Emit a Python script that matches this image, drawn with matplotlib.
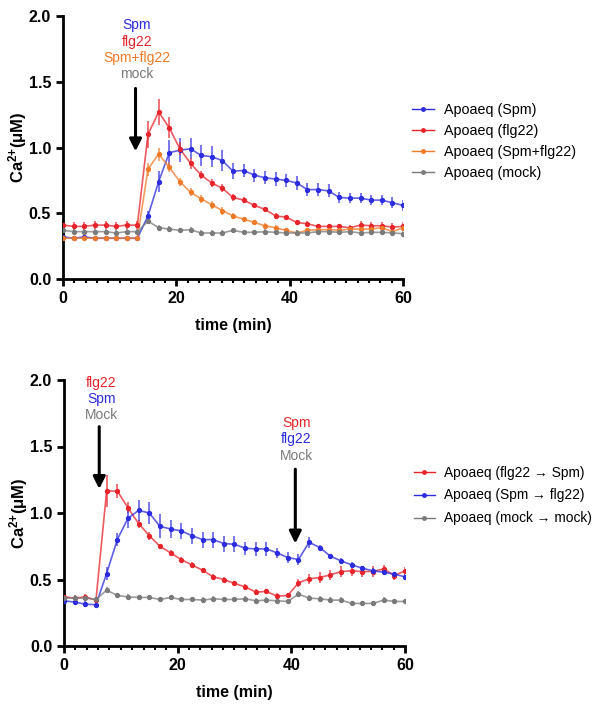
import matplotlib.pyplot as plt
import numpy as np

plt.rcParams['font.family'] = ['Liberation Sans', 'DejaVu Sans']
plt.rcParams['mathtext.fontset'] = 'custom'
plt.rcParams['mathtext.bf'] = 'Liberation Sans:bold'
plt.rcParams['mathtext.rm'] = 'Liberation Sans'

# time points (min), 33 readings
time = [i * 1.875 for i in range(33)]

# top panel
spm = [0.32, 0.31, 0.32, 0.31, 0.31, 0.31, 0.31, 0.31, 0.48, 0.74, 0.96, 0.98, 0.99,
       0.94, 0.93, 0.90, 0.82, 0.825, 0.79, 0.77, 0.76, 0.75, 0.73, 0.68, 0.68, 0.67,
       0.62, 0.615, 0.615, 0.60, 0.60, 0.58, 0.56]
spm_err = [0.02, 0.02, 0.02, 0.02, 0.02, 0.02, 0.02, 0.02, 0.04, 0.08, 0.10, 0.09, 0.08,
           0.08, 0.08, 0.08, 0.06, 0.05, 0.05, 0.05, 0.05, 0.05, 0.05, 0.05, 0.05, 0.05,
           0.04, 0.04, 0.04, 0.04, 0.04, 0.04, 0.04]
flg22 = [0.41, 0.40, 0.40, 0.41, 0.41, 0.40, 0.41, 0.41, 1.10, 1.27, 1.15, 0.99, 0.88,
         0.79, 0.73, 0.69, 0.62, 0.60, 0.56, 0.53, 0.48, 0.47, 0.43, 0.42, 0.40, 0.40,
         0.40, 0.39, 0.41, 0.405, 0.405, 0.395, 0.40]
flg22_err = [0.03, 0.03, 0.03, 0.03, 0.03, 0.03, 0.03, 0.03, 0.10, 0.10, 0.08, 0.05, 0.04,
             0.03, 0.03, 0.03, 0.03, 0.02, 0.02, 0.02, 0.02, 0.02, 0.02, 0.02, 0.02, 0.02,
             0.02, 0.02, 0.03, 0.03, 0.03, 0.03, 0.03]
spm_flg22 = [0.31, 0.31, 0.31, 0.31, 0.31, 0.31, 0.31, 0.31, 0.835, 0.95, 0.85, 0.74, 0.66,
             0.61, 0.565, 0.52, 0.48, 0.455, 0.43, 0.405, 0.39, 0.37, 0.35, 0.37, 0.375,
             0.375, 0.37, 0.38, 0.38, 0.38, 0.39, 0.36, 0.39]
spm_flg22_err = [0.01, 0.01, 0.01, 0.01, 0.01, 0.01, 0.01, 0.01, 0.05, 0.05, 0.04, 0.03, 0.03,
                 0.03, 0.03, 0.03, 0.02, 0.02, 0.02, 0.02, 0.02, 0.02, 0.02, 0.02, 0.02,
                 0.02, 0.02, 0.02, 0.02, 0.02, 0.02, 0.02, 0.02]
mock = [0.37, 0.36, 0.36, 0.36, 0.36, 0.35, 0.36, 0.36, 0.44, 0.39, 0.38, 0.37, 0.375,
        0.35, 0.35, 0.35, 0.37, 0.355, 0.355, 0.36, 0.355, 0.35, 0.35, 0.35, 0.36, 0.36,
        0.355, 0.36, 0.35, 0.355, 0.355, 0.35, 0.345]
mock_err = [0.02] * 33

# bottom panel
flg_spm = [0.37, 0.36, 0.37, 0.345, 1.165, 1.165, 1.04, 0.92, 0.83, 0.75, 0.70, 0.65,
           0.61, 0.57, 0.52, 0.50, 0.47, 0.445, 0.405, 0.41, 0.375, 0.38, 0.475, 0.505,
           0.515, 0.535, 0.56, 0.565, 0.56, 0.56, 0.58, 0.53, 0.565]
flg_spm_err = [0.02, 0.02, 0.02, 0.02, 0.12, 0.05, 0.04, 0.03, 0.03, 0.02, 0.02, 0.02,
               0.02, 0.02, 0.02, 0.02, 0.02, 0.02, 0.02, 0.02, 0.02, 0.02, 0.03, 0.04,
               0.04, 0.04, 0.04, 0.04, 0.04, 0.04, 0.03, 0.03, 0.03]
spm_flg = [0.34, 0.33, 0.315, 0.31, 0.545, 0.80, 0.96, 1.02, 1.00, 0.90, 0.88, 0.865,
           0.83, 0.80, 0.80, 0.77, 0.765, 0.735, 0.73, 0.73, 0.70, 0.665, 0.65, 0.78,
           0.74, 0.675, 0.64, 0.61, 0.585, 0.565, 0.555, 0.54, 0.52]
spm_flg_err = [0.02, 0.02, 0.02, 0.02, 0.05, 0.05, 0.07, 0.08, 0.08, 0.09, 0.07, 0.06,
               0.06, 0.06, 0.06, 0.06, 0.06, 0.05, 0.05, 0.05, 0.04, 0.04, 0.04, 0.04,
               0.02, 0.02, 0.02, 0.02, 0.02, 0.02, 0.02, 0.02, 0.02]
mock_mock = [0.36, 0.36, 0.36, 0.35, 0.42, 0.38, 0.37, 0.365, 0.365, 0.35, 0.365, 0.35,
             0.35, 0.345, 0.355, 0.35, 0.35, 0.355, 0.34, 0.345, 0.34, 0.335, 0.39, 0.36,
             0.355, 0.345, 0.345, 0.32, 0.32, 0.32, 0.345, 0.335, 0.335]
mock_mock_err = [0.02] * 33

BLUE = '#2b2bdf'
RED = '#e8242b'
ORANGE = '#f07a28'
GRAY = '#7a7a7a'


def series(ax, y, err, color, label):
    ax.errorbar(time, y, yerr=err, color=color, lw=1.2, alpha=0.75,
                elinewidth=1.2, capsize=0, zorder=2)
    ax.plot(time, y, 'o', color=color, ms=2.8, zorder=3)
    ax.plot([], [], '-o', color=color, lw=1.0, ms=2.5, label=label)


def style(ax):
    ax.set_xlim(0, 60)
    ax.set_ylim(0, 2.0)
    ax.set_xticks([0, 20, 40, 60])
    ax.set_xticks(np.arange(0, 61, 2), minor=True)
    ax.set_yticks([0, 0.5, 1.0, 1.5, 2.0])
    ax.set_yticklabels(['0.0', '0.5', '1.0', '1.5', '2.0'])
    for s in ['top', 'right']:
        ax.spines[s].set_visible(False)
    for s in ['left', 'bottom']:
        ax.spines[s].set_linewidth(2)
    ax.tick_params(width=2, length=5, labelsize=11.5)
    ax.tick_params(which='minor', width=1.5, length=3)
    for t in ax.get_xticklabels() + ax.get_yticklabels():
        t.set_fontweight('bold')
    ax.set_xlabel('time (min)', fontsize=11.5, fontweight='bold', labelpad=9)
    ax.set_ylabel('$\\mathbf{Ca^{2{+}}(\\mu M)}$', fontsize=12)
    ax.yaxis.set_label_coords(-0.1, 0.5)


def arrow(ax, x, y0, y1):
    ax.annotate('', xy=(x, y1), xytext=(x, y0),
                arrowprops=dict(arrowstyle='-|>', color='black', lw=2.2,
                                mutation_scale=18))


fig = plt.figure(figsize=(5.94, 7.05), dpi=100)
ax1 = fig.add_axes([63 / 594, 1 - 279 / 705, 340 / 594, 263 / 705])
ax2 = fig.add_axes([64 / 594, 1 - 646 / 705, 341 / 594, 266 / 705])

series(ax1, spm, spm_err, BLUE, 'Apoaeq (Spm)')
series(ax1, flg22, flg22_err, RED, 'Apoaeq (flg22)')
series(ax1, spm_flg22, spm_flg22_err, ORANGE, 'Apoaeq (Spm+flg22)')
series(ax1, mock, mock_err, GRAY, 'Apoaeq (mock)')
style(ax1)
ax1.legend(loc='upper left', bbox_to_anchor=(0.99, 0.72), frameon=False,
           fontsize=10.3, handlelength=1.5, handletextpad=0.7, labelspacing=0.5)

arrow(ax1, 12.8, 1.47, 0.95)
for txt, c, yy in [('Spm', BLUE, 1.93), ('flg22', RED, 1.80),
                   ('Spm+flg22', ORANGE, 1.68), ('mock', GRAY, 1.56)]:
    ax1.text(13.0, yy, txt, color=c, ha='center', va='center', fontsize=10)

series(ax2, flg_spm, flg_spm_err, RED, 'Apoaeq (flg22 → Spm)')
series(ax2, spm_flg, spm_flg_err, BLUE, 'Apoaeq (Spm → flg22)')
series(ax2, mock_mock, mock_mock_err, GRAY, 'Apoaeq (mock → mock)')
style(ax2)
ax2.legend(loc='upper left', bbox_to_anchor=(0.99, 0.725), frameon=False,
           fontsize=9.9, handlelength=1.5, handletextpad=0.7, labelspacing=0.65)

arrow(ax2, 6.2, 1.67, 1.16)
for txt, c, yy in [('flg22', RED, 1.98), ('Spm', BLUE, 1.86), ('Mock', GRAY, 1.74)]:
    ax2.text(6.6, yy, txt, color=c, ha='center', va='center', fontsize=10)

arrow(ax2, 40.7, 1.35, 0.75)
for txt, c, yy in [('Spm', RED, 1.68), ('flg22', BLUE, 1.56), ('Mock', GRAY, 1.43)]:
    ax2.text(40.9, yy, txt, color=c, ha='center', va='center', fontsize=10)

fig.savefig('out.png', dpi=100)
